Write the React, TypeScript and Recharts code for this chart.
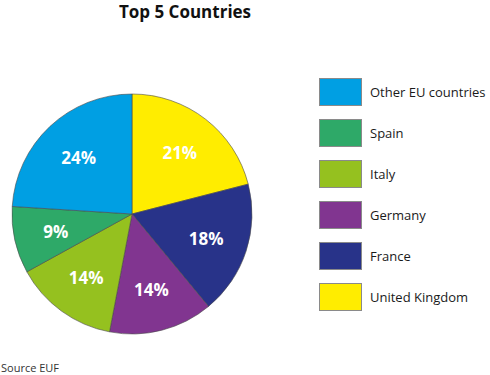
import React from "react";
import { PieChart, Pie, Cell, Legend } from "recharts";

const countries = ["United Kingdom", "France", "Germany", "Italy", "Spain", "Other EU countries"];
const shares = [21, 18, 14, 14, 9, 24];
const colors = ["#FFED00", "#283389", "#813590", "#95C11F", "#2EA968", "#009FE3"];
const legendOrder = ["Other EU countries", "Spain", "Italy", "Germany", "France", "United Kingdom"];

const data = countries.map((name, i) => ({ name, value: shares[i], color: colors[i] }));

const RAD = Math.PI / 180;

const renderLabel = (props: any) => {
  const { cx, cy, midAngle, outerRadius, value } = props;
  const r = outerRadius * 0.65;
  const x = cx + r * Math.cos(-midAngle * RAD);
  const y = cy + r * Math.sin(-midAngle * RAD);
  return (
    <text
      x={x}
      y={y}
      fill="#FFFFFF"
      textAnchor="middle"
      dominantBaseline="central"
      fontSize={17}
      fontWeight="bold"
      fontFamily="'Open Sans', sans-serif"
    >
      {value}%
    </text>
  );
};

const renderLegend = () => (
  <div>
    {legendOrder.map((name) => {
      const item = data.find((d) => d.name === name)!;
      return (
        <div key={name} style={{ display: "flex", alignItems: "center", height: 41 }}>
          <div
            style={{
              width: 41,
              height: 26,
              background: item.color,
              border: "1px solid #8a8a8a",
              marginRight: 8,
            }}
          />
          <span style={{ fontSize: 13, color: "#1a1a1a" }}>{name}</span>
        </div>
      );
    })}
  </div>
);

export default function App() {
  document.body.style.margin = "0";
  return (
    <div
      style={{
        position: "relative",
        width: 490,
        height: 375,
        background: "#FFFFFF",
        fontFamily: "'Open Sans', sans-serif",
      }}
    >
      <div
        style={{
          position: "absolute",
          left: 0,
          width: 370,
          top: 0,
          textAlign: "center",
          fontSize: 17,
          fontWeight: "bold",
          color: "#111",
        }}
      >
        Top 5 Countries
      </div>
      <PieChart width={490} height={375} margin={{ top: 0, right: 0, bottom: 0, left: 0 }}>
        <Pie
          data={data}
          dataKey="value"
          nameKey="name"
          cx={132}
          cy={214}
          outerRadius={120}
          startAngle={90}
          endAngle={-270}
          stroke="#4a4a4a"
          strokeWidth={0.6}
          label={renderLabel}
          labelLine={false}
          isAnimationActive={false}
        >
          {data.map((d) => (
            <Cell key={d.name} fill={d.color} />
          ))}
        </Pie>
        <Legend
          content={renderLegend}
          layout="vertical"
          wrapperStyle={{ position: "absolute", left: 319, top: 71, width: 171 }}
        />
      </PieChart>
      <div
        style={{
          position: "absolute",
          left: 1,
          top: 360,
          fontSize: 11,
          color: "#333",
        }}
      >
        Source EUF
      </div>
    </div>
  );
}
